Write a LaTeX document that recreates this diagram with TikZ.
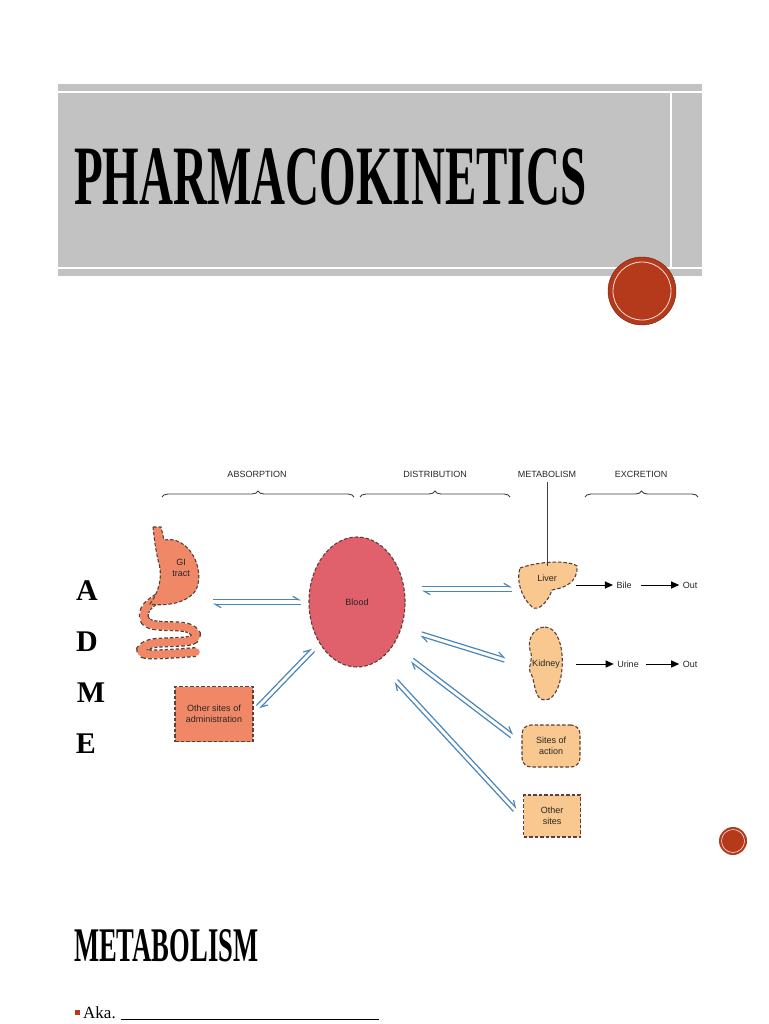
\documentclass[tikz,border=0pt]{standalone}
\usepackage{fontspec}
\setmainfont{Liberation Serif}
\newfontfamily\diag{Liberation Sans}
\usetikzlibrary{arrows.meta,calc,decorations.pathreplacing,shapes.geometric}
\definecolor{banner}{HTML}{C2C2C2}
\definecolor{rust}{HTML}{B53A1C}
\definecolor{gi}{HTML}{F08868}
\definecolor{bloodc}{HTML}{E0606C}
\definecolor{organc}{HTML}{F8C890}
\definecolor{arrowblue}{HTML}{4A86B8}
\definecolor{dashc}{HTML}{5A4038}
\tikzset{
  lbl/.style={font=\diag\fontsize{9}{10.5}\selectfont, align=center, text=black!85},
  dsh/.style={draw=dashc, dash pattern=on 3.5pt off 2pt, line width=1.1pt},
  organ/.style={dsh, fill=organc},
  brace/.style={decorate, decoration={brace, amplitude=6pt}, line width=0.9pt, draw=black!75},
  harp/.style={draw=arrowblue, line width=1.2pt, -{Straight Barb[left, length=6pt, width=7pt]}},
  blk/.style={draw=black, line width=1pt, -{Triangle[length=8pt,width=7pt]}},
  adme/.style={font=\bfseries\fontsize{30}{32}\selectfont},
}
\newcommand{\dharp}[2]{%
  \draw[harp] ($(#1)!2.2pt!90:(#2)$) -- ($(#2)!2.2pt!-90:(#1)$);
  \draw[harp] ($(#2)!2.2pt!90:(#1)$) -- ($(#1)!2.2pt!-90:(#2)$);}
\begin{document}
\begin{tikzpicture}[x=1pt,y=-1pt]
\useasboundingbox (0,0) rectangle (768,1024);
\fill[white] (0,0) rectangle (768,1024);
% banner
\fill[banner] (58,84) rectangle (702,276);
\draw[white, line width=1.5pt] (58,92) -- (702,92);
\draw[white, line width=1.5pt] (58,268) -- (702,268);
\draw[white, line width=1.5pt] (671,92) -- (671,268);
\node[anchor=west, inner sep=0] (title) at (74,177) {\resizebox{512pt}{56pt}{\bfseries PHARMACOKINETICS}};
\node[circle, fill=rust, draw=rust!60!black, minimum size=68pt] (dot1) at (642,291) {};
\node[circle, draw=white!85!rust, line width=0.8pt, minimum size=58pt] at (642,291) {};
\node[circle, fill=rust, minimum size=28pt] (dot2) at (733,841) {};
\node[circle, draw=white!85!rust, line width=0.6pt, minimum size=23pt] at (733,841) {};
% ADME
\node[adme] (la) at (87,591) {A};
\node[adme] (ld) at (87,642) {D};
\node[adme] (lm) at (91,693) {M};
\node[adme] (le) at (86,744) {E};
% braces and headings
\node[lbl] (habs) at (257,474) {ABSORPTION};
\node[lbl] (hdis) at (435,474) {DISTRIBUTION};
\node[lbl] (hmet) at (547,474) {METABOLISM};
\node[lbl] (hexc) at (641,474) {EXCRETION};
\draw[brace] (162,497) -- (354,497);
\draw[brace] (360,497) -- (510,497);
\draw[brace] (585,497) -- (698,497);
% stomach / GI
\draw[dashc, dash pattern=on 3.5pt off 2pt, line width=10pt, line cap=butt] plot[smooth, tension=0.7] coordinates {(158,598) (145,610) (150,624) (188,628) (192,640) (150,644) (146,654) (196,652)};
\draw[gi, line width=7.5pt, line cap=round] plot[smooth, tension=0.7] coordinates {(158,598) (145,610) (150,624) (188,628) (192,640) (150,644) (146,654) (196,652)};
\draw[organ, fill=gi] (153,527) -- (161,527) -- (164,540) .. controls (188,535) and (206,568) .. (196,590) .. controls (186,605) and (162,606) .. (150,604) .. controls (160,590) and (163,575) .. (158,560) .. controls (155,545) .. (153,527) -- cycle;
\node[lbl] (gi) at (181,568) {GI\\tract};
% blood
\node[ellipse, dsh, fill=bloodc, minimum width=96pt, minimum height=130pt, lbl] (blood) at (357,602) {Blood};
% other sites of administration
\node[dsh, fill=gi, minimum width=78pt, minimum height=55pt, lbl] (osa) at (214,714) {Other sites of\\administration};
% liver
\draw[organ] (520,568) .. controls (540,561) and (568,560) .. (577,566) .. controls (578,582) and (565,588) .. (552,590) .. controls (548,602) and (538,612) .. (532,607) .. controls (521,597) and (516,580) .. (520,568) -- cycle;
\node[lbl] (liver) at (547,578) {Liver};
% kidney
\draw[organ] (545,627) .. controls (570,628) and (566,700) .. (545,700) .. controls (533,700) and (536,680) .. (530,672) .. controls (528,664) and (534,660) .. (530,650) .. controls (527,638) and (535,627) .. (545,627) -- cycle;
\node[lbl] (kidney) at (546,664) {Kidney};
% sites of action
\node[dsh, fill=organc, rounded corners=9pt, minimum width=58pt, minimum height=42pt, lbl] (soa) at (551,746) {Sites of\\action};
\node[dsh, fill=organc, minimum width=57pt, minimum height=42pt, lbl] (os) at (552,816) {Other\\sites};
% metabolism line
\coordinate (mtop) at (547,482);
\coordinate (mbot) at (547,566);
\draw[black!75, line width=0.9pt] (mtop) -- (mbot);
% blue double arrows
\coordinate (a1) at (213,602); \coordinate (b1) at (301,602);
\coordinate (a2) at (258,707); \coordinate (b2) at (313,650);
\coordinate (a3) at (422,589); \coordinate (b3) at (512,589);
\coordinate (a4) at (421,634); \coordinate (b4) at (505,660);
\coordinate (a5) at (412,660); \coordinate (b5) at (512,736);
\coordinate (a6) at (396,681); \coordinate (b6) at (515,810);
\dharp{a1}{b1}
\dharp{a2}{b2}
\dharp{a3}{b3}
\dharp{a4}{b4}
\dharp{a5}{b5}
\dharp{a6}{b6}
% excretion chain
\node[lbl] (bile) at (624,585) {Bile};
\node[lbl] (out1) at (690,585) {Out};
\node[lbl] (urine) at (628,664) {Urine};
\node[lbl] (out2) at (690,664) {Out};
\coordinate (lv) at (576,585);
\coordinate (kd) at (576,664);
\draw[blk] (lv) -- (bile.west);
\draw[blk] (bile.east) ++(6,0) -- (out1.west);
\draw[blk] (kd) -- (urine.west);
\draw[blk] (urine.east) ++(4,0) -- (out2.west);
% bottom heading
\node[anchor=west, inner sep=0] (meta) at (74,946) {\resizebox{184pt}{32pt}{\bfseries METABOLISM}};
\fill[rust] (75,1010) rectangle (80,1015);
\node[anchor=west, inner sep=0, font=\fontsize{17}{18}\selectfont] (aka) at (83,1013) {Aka. \rule[-1.5pt]{258pt}{0.8pt}};
\end{tikzpicture}
\end{document}
